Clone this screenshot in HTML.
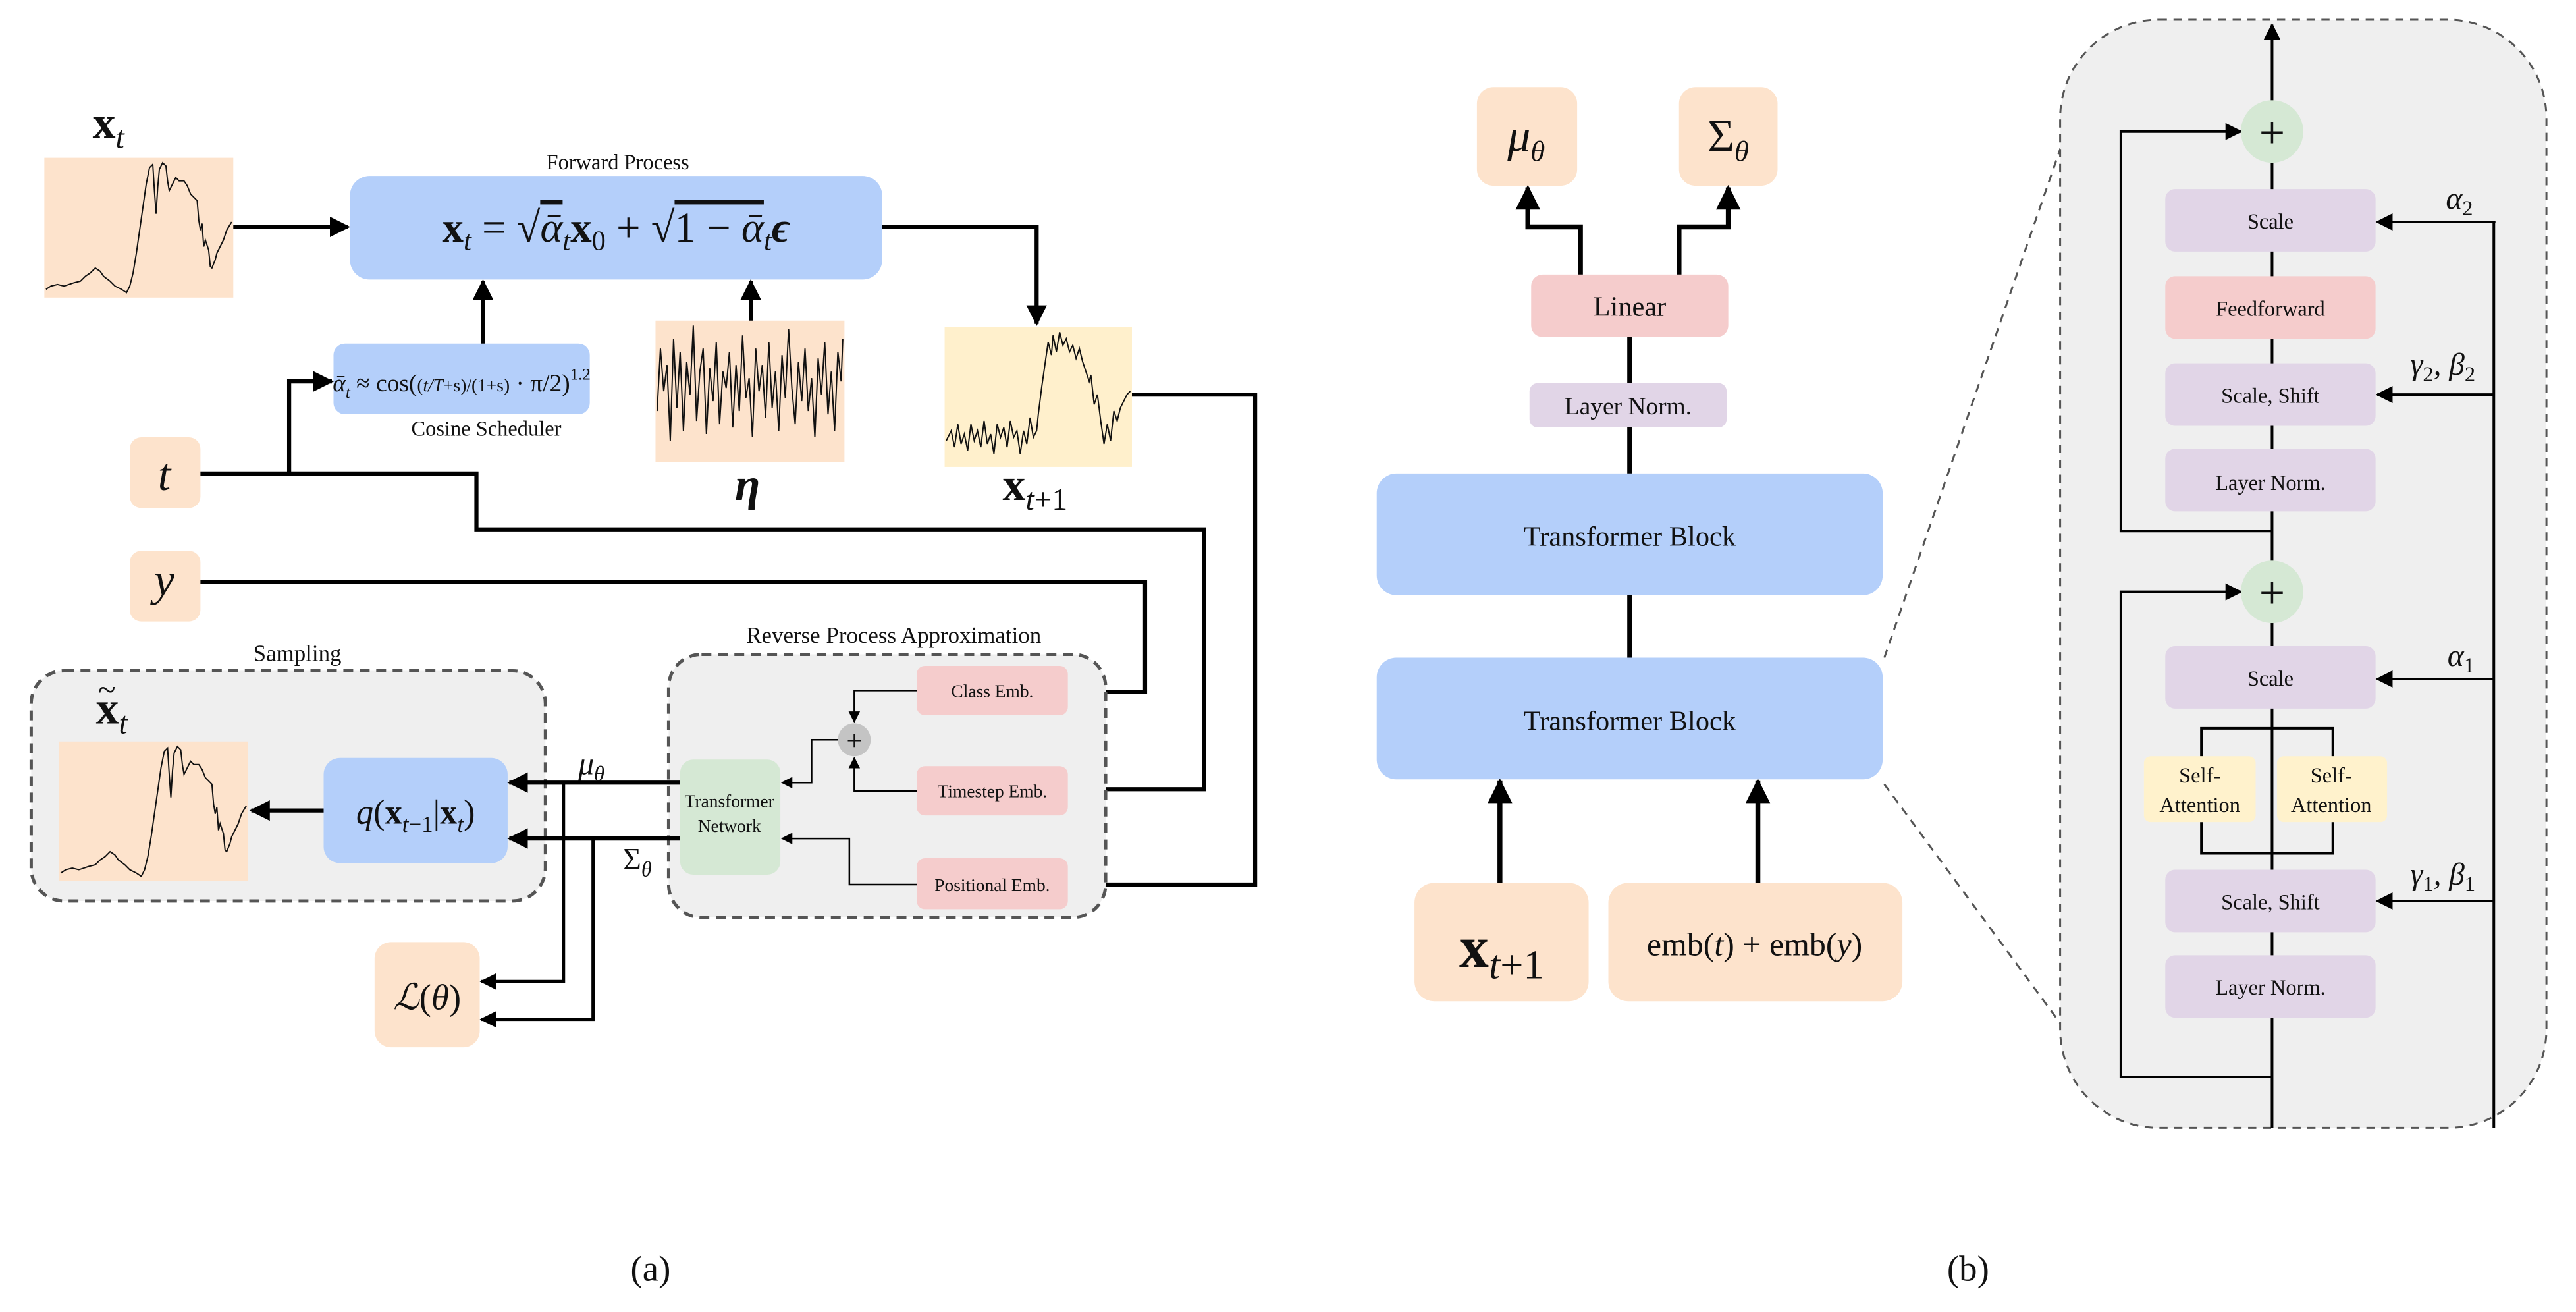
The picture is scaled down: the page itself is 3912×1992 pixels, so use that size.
<!DOCTYPE html>
<html><head><meta charset="utf-8"><style>
html,body{margin:0;padding:0;background:#fff;}
svg{display:block;}
text{font-family:"Liberation Serif","DejaVu Serif",serif;fill:#111;}
.it{font-style:italic;}
.b{font-weight:bold;}
</style></head><body>
<svg width="3912" height="1992" viewBox="0 0 1568 798" preserveAspectRatio="none" xmlns="http://www.w3.org/2000/svg" font-family="Liberation Serif, serif">
<defs>
<marker id="ah" viewBox="0 0 10 10" refX="9" refY="5" markerWidth="5" markerHeight="5" orient="auto" markerUnits="strokeWidth"><path d="M0,0L10,5L0,10z" fill="#000"/></marker>
<marker id="am" viewBox="0 0 10 10" refX="9" refY="5" markerWidth="6.5" markerHeight="6.5" orient="auto" markerUnits="strokeWidth"><path d="M0,0L10,5L0,10z" fill="#000"/></marker>
<marker id="as" viewBox="0 0 10 10" refX="9" refY="5" markerWidth="7" markerHeight="7" orient="auto" markerUnits="strokeWidth"><path d="M0,0L10,5L0,10z" fill="#000"/></marker>
<path id="wave" d="M1,80 L4,78 L8,77 L12,78 L18,76 L22,75 L25,72 L28,70 L31,67 L34,69 L36,72 L40,75 L43,78 L47,80 L50,82 L52,78 L54,70 L56,58 L58,44 L60,30 L62,16 L64,6 L66,4 L67,20 L68,34 L69,18 L70,7 L72,3 L74,5 L75,14 L76,20 L78,16 L80,12 L82,14 L85,14 L87,17 L89,22 L91,24 L93,26 L94,38 L95,44 L96,40 L97,54 L98,50 L100,56 L101,66 L102,67 L104,62 L105,58 L107,54 L109,50 L111,44 L114,39" fill="none" stroke="#111" stroke-width="0.8"/>
</defs>

<!-- ===== (a) ===== -->
<text x="66" y="84" font-size="28" class="b" text-anchor="middle">x<tspan font-size="19" class="it" font-weight="normal" dy="6">t</tspan></text>
<rect x="27" y="96" width="115" height="85" fill="#fde3cc"/>
<use href="#wave" x="27" y="96"/>
<line x1="142" y1="138" x2="212" y2="138" stroke="#000" stroke-width="2.5" marker-end="url(#ah)"/>

<text x="376" y="103" font-size="13" text-anchor="middle">Forward Process</text>
<rect x="213" y="107" width="324" height="63" rx="12" fill="#b4cffa"/>
<text x="375" y="147" font-size="26" text-anchor="middle"><tspan class="b">x</tspan><tspan class="it" font-size="17" dy="5">t</tspan><tspan dy="-5"> = √</tspan><tspan class="it" text-decoration="overline">ᾱ</tspan><tspan class="it" font-size="17" dy="5">t</tspan><tspan class="b" dy="-5">x</tspan><tspan font-size="17" dy="5">0</tspan><tspan dy="-5"> + √</tspan><tspan text-decoration="overline">1 − <tspan class="it">ᾱ</tspan></tspan><tspan class="it" font-size="17" dy="5">t</tspan><tspan class="b it" dy="-5">ϵ</tspan></text>

<polyline points="537,138 631,138 631,197" fill="none" stroke="#000" stroke-width="2.5" marker-end="url(#ah)"/>

<rect x="575" y="199" width="114" height="85" fill="#fff0cc"/>
<path d="M576,268 L579,262 L581,272 L583,258 L585,270 L587,264 L589,274 L591,258 L593,268 L595,262 L597,272 L599,256 L601,270 L603,264 L605,276 L607,258 L609,266 L611,260 L613,272 L615,256 L617,266 L619,262 L621,276 L623,262 L625,270 L627,254 L629,266 L631,262 L632,252 L634,236 L636,222 L638,208 L640,216 L641,204 L643,214 L645,202 L647,210 L649,206 L651,214 L653,210 L655,218 L657,212 L659,220 L661,226 L663,232 L664,228 L666,246 L668,240 L670,256 L672,270 L674,258 L676,268 L678,250 L680,256 L682,248 L684,244 L686,240 L688,238" fill="none" stroke="#111" stroke-width="0.8"/>
<text x="630" y="304" font-size="28" class="b" text-anchor="middle">x<tspan font-size="19" font-weight="normal" dy="6"><tspan class="it">t</tspan>+1</tspan></text>

<rect x="399" y="195" width="115" height="86" fill="#fde3cc"/>
<path d="M400,250 L402,212 L404,238 L406,222 L408,268 L410,206 L412,248 L414,214 L416,262 L418,220 L420,240 L422,198 L424,256 L426,226 L428,212 L430,264 L432,224 L434,244 L436,208 L438,258 L440,226 L442,236 L444,214 L446,260 L448,222 L450,250 L452,204 L454,242 L456,230 L458,266 L460,212 L462,238 L464,222 L466,254 L468,208 L470,248 L472,226 L474,262 L476,216 L478,242 L480,200 L482,236 L484,258 L486,220 L488,244 L490,212 L492,250 L494,230 L496,266 L498,218 L500,240 L502,208 L504,252 L506,226 L508,262 L510,214 L512,232 L513,206" fill="none" stroke="#111" stroke-width="0.8"/>
<text x="455" y="304" font-size="28" class="b it" text-anchor="middle">η</text>
<line x1="457" y1="195" x2="457" y2="171" stroke="#000" stroke-width="2.5" marker-end="url(#ah)"/>

<rect x="203" y="209" width="156" height="43" rx="7" fill="#b4cffa"/>
<text x="281" y="238" font-size="15" text-anchor="middle"><tspan class="it">ᾱ</tspan><tspan class="it" font-size="10" dy="4">t</tspan><tspan dy="-4"> ≈ cos(</tspan><tspan font-size="11">(</tspan><tspan font-size="11" class="it">t/T</tspan><tspan font-size="11">+s)/(1+s)</tspan><tspan> · π/2)</tspan><tspan font-size="10" dy="-7">1.2</tspan></text>
<text x="296" y="265" font-size="13" text-anchor="middle">Cosine Scheduler</text>
<line x1="294" y1="209" x2="294" y2="171" stroke="#000" stroke-width="2.5" marker-end="url(#ah)"/>

<rect x="79" y="266" width="43" height="43" rx="7" fill="#fde3cc"/>
<text x="100" y="298" font-size="28" class="it" text-anchor="middle">t</text>
<rect x="79" y="335" width="43" height="43" rx="7" fill="#fde3cc"/>
<text x="100" y="362" font-size="28" class="it" text-anchor="middle">y</text>

<polyline points="122,288 290,288 290,322 733,322 733,480 652,480" fill="none" stroke="#000" stroke-width="2.5" marker-end="url(#ah)"/>
<polyline points="176,288 176,232 202,232" fill="none" stroke="#000" stroke-width="2.5" marker-end="url(#ah)"/>
<polyline points="122,354 697,354 697,421 652,421" fill="none" stroke="#000" stroke-width="2.5" marker-end="url(#ah)"/>
<polyline points="689,240 764,240 764,538 652,538" fill="none" stroke="#000" stroke-width="2.5" marker-end="url(#ah)"/>

<!-- Sampling -->
<text x="181" y="402" font-size="14" text-anchor="middle">Sampling</text>
<rect x="19" y="408" width="313" height="140" rx="20" fill="#efefef" stroke="#555" stroke-width="2" stroke-dasharray="6,4"/>
<text x="65" y="426" font-size="20" text-anchor="middle">~</text>
<text x="68" y="440" font-size="28" class="b" text-anchor="middle">x<tspan font-size="19" class="it" font-weight="normal" dy="6">t</tspan></text>
<rect x="36" y="451" width="115" height="85" fill="#fde3cc"/>
<use href="#wave" x="36" y="451"/>
<rect x="197" y="461" width="112" height="64" rx="10" fill="#b4cffa"/>
<text x="253" y="501" font-size="21" text-anchor="middle"><tspan class="it">q</tspan>(<tspan class="b">x</tspan><tspan font-size="14" dy="5"><tspan class="it">t</tspan>−1</tspan><tspan dy="-5">|</tspan><tspan class="b">x</tspan><tspan font-size="14" class="it" dy="5">t</tspan><tspan dy="-5">)</tspan></text>
<line x1="197" y1="493" x2="153" y2="493" stroke="#000" stroke-width="2.5" marker-end="url(#ah)"/>

<!-- Reverse -->
<text x="544" y="391" font-size="14" text-anchor="middle">Reverse Process Approximation</text>
<rect x="407" y="398" width="266" height="160" rx="20" fill="#efefef" stroke="#555" stroke-width="2" stroke-dasharray="6,4"/>
<rect x="558" y="405" width="92" height="30" rx="5" fill="#f5cccc"/>
<text x="604" y="424" font-size="11" text-anchor="middle">Class Emb.</text>
<rect x="558" y="466" width="92" height="30" rx="5" fill="#f5cccc"/>
<text x="604" y="485" font-size="11" text-anchor="middle">Timestep Emb.</text>
<rect x="558" y="522" width="92" height="31" rx="5" fill="#f5cccc"/>
<text x="604" y="542" font-size="11" text-anchor="middle">Positional Emb.</text>
<rect x="414" y="462" width="61" height="70" rx="8" fill="#d5e8d4"/>
<text x="444" y="491" font-size="11" text-anchor="middle">Transformer</text>
<text x="444" y="506" font-size="11" text-anchor="middle">Network</text>
<circle cx="520" cy="450" r="10" fill="#c4c4c4"/>
<text x="520" y="456" font-size="17" text-anchor="middle">+</text>
<polyline points="558,420 520,420 520,439" fill="none" stroke="#000" stroke-width="1" marker-end="url(#as)"/>
<polyline points="558,481 520,481 520,461" fill="none" stroke="#000" stroke-width="1" marker-end="url(#as)"/>
<polyline points="510,450 494,450 494,476 476,476" fill="none" stroke="#000" stroke-width="1" marker-end="url(#as)"/>
<polyline points="558,538 517,538 517,510 476,510" fill="none" stroke="#000" stroke-width="1" marker-end="url(#as)"/>

<line x1="414" y1="476" x2="310" y2="476" stroke="#000" stroke-width="2.5" marker-end="url(#ah)"/>
<line x1="414" y1="510" x2="310" y2="510" stroke="#000" stroke-width="2.5" marker-end="url(#ah)"/>
<text x="360" y="471" font-size="19" class="it" text-anchor="middle">μ<tspan font-size="13" dy="4">θ</tspan></text>
<text x="388" y="529" font-size="19" text-anchor="middle">Σ<tspan font-size="13" class="it" dy="4">θ</tspan></text>
<polyline points="343,476 343,597 293,597" fill="none" stroke="#000" stroke-width="2" marker-end="url(#ah)"/>
<polyline points="361,510 361,620 293,620" fill="none" stroke="#000" stroke-width="2" marker-end="url(#ah)"/>
<rect x="228" y="573" width="64" height="64" rx="10" fill="#fde3cc"/>
<text x="260" y="614" font-size="22" text-anchor="middle"><tspan class="it">ℒ</tspan>(<tspan class="it">θ</tspan>)</text>

<text x="396" y="779" font-size="22" text-anchor="middle">(a)</text>

<!-- ===== (b) ===== -->
<rect x="899" y="53" width="61" height="60" rx="10" fill="#fde3cc"/>
<text x="929" y="92" font-size="28" class="it" text-anchor="middle">μ<tspan font-size="18" dy="6">θ</tspan></text>
<rect x="1022" y="53" width="60" height="60" rx="10" fill="#fde3cc"/>
<text x="1052" y="92" font-size="28" text-anchor="middle">Σ<tspan font-size="18" class="it" dy="6">θ</tspan></text>
<polyline points="962,167 962,138 930,138 930,114" fill="none" stroke="#000" stroke-width="3" marker-end="url(#ah)"/>
<polyline points="1022,167 1022,138 1052,138 1052,114" fill="none" stroke="#000" stroke-width="3" marker-end="url(#ah)"/>
<rect x="932" y="167" width="120" height="38" rx="7" fill="#f5cccc"/>
<text x="992" y="192" font-size="17" text-anchor="middle">Linear</text>
<line x1="992" y1="205" x2="992" y2="288" stroke="#000" stroke-width="3"/>
<rect x="931" y="233" width="120" height="27" rx="5" fill="#e1d5e7"/>
<text x="991" y="252" font-size="15" text-anchor="middle">Layer Norm.</text>
<rect x="838" y="288" width="308" height="74" rx="12" fill="#b4cffa"/>
<text x="992" y="332" font-size="17" text-anchor="middle">Transformer Block</text>
<line x1="992" y1="362" x2="992" y2="400" stroke="#000" stroke-width="3"/>
<rect x="838" y="400" width="308" height="74" rx="12" fill="#b4cffa"/>
<text x="992" y="444" font-size="17" text-anchor="middle">Transformer Block</text>
<rect x="861" y="537" width="106" height="72" rx="12" fill="#fde3cc"/>
<text x="914" y="588" font-size="36" class="b" text-anchor="middle">x<tspan font-size="25" font-weight="normal" dy="7"><tspan class="it">t</tspan>+1</tspan></text>
<rect x="979" y="537" width="179" height="72" rx="12" fill="#fde3cc"/>
<text x="1068" y="581" font-size="20" text-anchor="middle">emb(<tspan class="it">t</tspan>) + emb(<tspan class="it">y</tspan>)</text>
<line x1="913" y1="537" x2="913" y2="475" stroke="#000" stroke-width="3" marker-end="url(#ah)"/>
<line x1="1070" y1="537" x2="1070" y2="475" stroke="#000" stroke-width="3" marker-end="url(#ah)"/>
<text x="1198" y="779" font-size="22" text-anchor="middle">(b)</text>

<line x1="1147" y1="400" x2="1256" y2="85" stroke="#555" stroke-width="1.2" stroke-dasharray="5,4"/>
<line x1="1147" y1="477" x2="1256" y2="625" stroke="#555" stroke-width="1.2" stroke-dasharray="5,4"/>
<rect x="1254" y="12" width="296" height="674" rx="60" fill="#efefef" stroke="#555" stroke-width="1.2" stroke-dasharray="5,4"/>

<line x1="1383" y1="686" x2="1383" y2="15" stroke="#000" stroke-width="1.6" marker-end="url(#am)"/>
<polyline points="1383,323 1291,323 1291,80 1364,80" fill="none" stroke="#000" stroke-width="1.6" marker-end="url(#am)"/>
<polyline points="1383,655 1291,655 1291,360 1364,360" fill="none" stroke="#000" stroke-width="1.6" marker-end="url(#am)"/>
<line x1="1518" y1="686" x2="1518" y2="135" stroke="#000" stroke-width="1.6"/>
<line x1="1519" y1="135" x2="1447" y2="135" stroke="#000" stroke-width="1.6" marker-end="url(#am)"/>
<line x1="1518" y1="240" x2="1447" y2="240" stroke="#000" stroke-width="1.6" marker-end="url(#am)"/>
<line x1="1518" y1="413" x2="1447" y2="413" stroke="#000" stroke-width="1.6" marker-end="url(#am)"/>
<line x1="1518" y1="548" x2="1447" y2="548" stroke="#000" stroke-width="1.6" marker-end="url(#am)"/>

<circle cx="1383" cy="80" r="19" fill="#d5e8d4"/>
<text x="1383" y="90" font-size="28" text-anchor="middle">+</text>
<circle cx="1383" cy="360" r="19" fill="#d5e8d4"/>
<text x="1383" y="370" font-size="28" text-anchor="middle">+</text>

<rect x="1318" y="115" width="128" height="38" rx="6" fill="#e1d5e7"/>
<text x="1382" y="139" font-size="13" text-anchor="middle">Scale</text>
<rect x="1318" y="168" width="128" height="38" rx="6" fill="#f5cccc"/>
<text x="1382" y="192" font-size="13" text-anchor="middle">Feedforward</text>
<rect x="1318" y="221" width="128" height="38" rx="6" fill="#e1d5e7"/>
<text x="1382" y="245" font-size="13" text-anchor="middle">Scale, Shift</text>
<rect x="1318" y="273" width="128" height="38" rx="6" fill="#e1d5e7"/>
<text x="1382" y="298" font-size="13" text-anchor="middle">Layer Norm.</text>

<rect x="1318" y="393" width="128" height="38" rx="6" fill="#e1d5e7"/>
<text x="1382" y="417" font-size="13" text-anchor="middle">Scale</text>
<polyline points="1340,460 1340,443 1420,443 1420,460" fill="none" stroke="#000" stroke-width="1.6"/>
<polyline points="1340,500 1340,519 1420,519 1420,500" fill="none" stroke="#000" stroke-width="1.6"/>
<rect x="1305" y="460" width="68" height="40" rx="4" fill="#fff2cc"/>
<text x="1339" y="476" font-size="13" text-anchor="middle">Self-</text>
<text x="1339" y="494" font-size="13" text-anchor="middle">Attention</text>
<rect x="1386" y="460" width="67" height="40" rx="4" fill="#fff2cc"/>
<text x="1419" y="476" font-size="13" text-anchor="middle">Self-</text>
<text x="1419" y="494" font-size="13" text-anchor="middle">Attention</text>
<rect x="1318" y="529" width="128" height="38" rx="6" fill="#e1d5e7"/>
<text x="1382" y="553" font-size="13" text-anchor="middle">Scale, Shift</text>
<rect x="1318" y="581" width="128" height="38" rx="6" fill="#e1d5e7"/>
<text x="1382" y="605" font-size="13" text-anchor="middle">Layer Norm.</text>

<text x="1497" y="127" font-size="19" class="it" text-anchor="middle">α<tspan font-size="13" font-style="normal" dy="4">2</tspan></text>
<text x="1487" y="228" font-size="19" class="it" text-anchor="middle">γ<tspan font-size="13" font-style="normal" dy="4">2</tspan><tspan dy="-4">, β</tspan><tspan font-size="13" font-style="normal" dy="4">2</tspan></text>
<text x="1498" y="405" font-size="19" class="it" text-anchor="middle">α<tspan font-size="13" font-style="normal" dy="4">1</tspan></text>
<text x="1487" y="538" font-size="19" class="it" text-anchor="middle">γ<tspan font-size="13" font-style="normal" dy="4">1</tspan><tspan dy="-4">, β</tspan><tspan font-size="13" font-style="normal" dy="4">1</tspan></text>
</svg>
</body></html>
